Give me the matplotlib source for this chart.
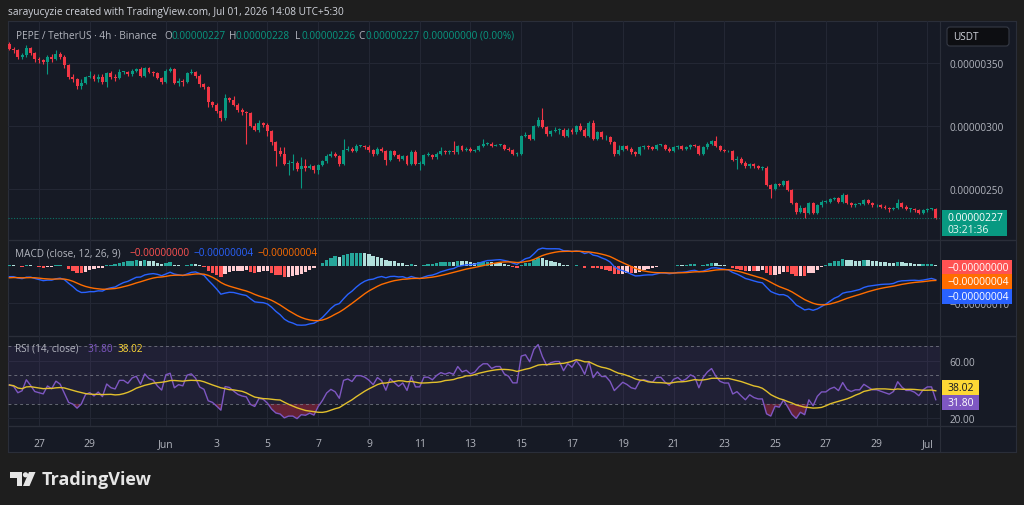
import numpy as np
import pandas as pd
import matplotlib
matplotlib.use("Agg")
import matplotlib.pyplot as plt
from matplotlib.patches import Rectangle, FancyBboxPatch, Polygon, Circle

plt.rcParams["font.family"] = ["Open Sans", "DejaVu Sans"]

# ---------- data (prices in units of 1e-8 USDT) ----------
first_open = 365
close = [
    361, 360, 355, 356, 362, 358, 353, 352, 351, 355,
    353, 357, 355, 348, 339, 337, 332, 334, 339, 340,
    337, 339, 335, 342, 339, 338, 343, 343, 341, 344,
    345, 340, 346, 343, 342, 338, 335, 344, 345, 334,
    336, 335, 342, 343, 340, 333, 331, 319, 317, 312,
    306, 322, 321, 317, 313, 311, 310, 300, 297, 302,
    301, 296, 287, 280, 278, 270, 271, 271, 266, 268,
    267, 268, 265, 269, 272, 276, 278, 276, 270, 281,
    282, 280, 284, 284, 283, 281, 278, 282, 280, 273,
    280, 277, 274, 276, 270, 279, 270, 270, 277, 277,
    275, 278, 280, 279, 280, 279, 284, 281, 282, 280,
    281, 284, 286, 286, 284, 285, 285, 282, 281, 278,
    278, 292, 293, 290, 300, 305, 299, 294, 296, 297,
    297, 292, 297, 295, 300, 297, 292, 302, 290, 295,
    291, 291, 287, 278, 281, 284, 282, 279, 278, 283,
    284, 283, 282, 285, 285, 282, 280, 283, 284, 282,
    283, 285, 284, 278, 283, 286, 288, 284, 281, 280,
    280, 273, 274, 271, 268, 270, 268, 267, 267, 253,
    250, 254, 253, 256, 249, 239, 232, 235, 231, 239,
    231, 237, 240, 240, 242, 243, 240, 245, 239, 237,
    238, 238, 241, 239, 237, 237, 236, 235, 234, 235,
    239, 236, 234, 234, 233, 231, 233, 234, 234, 227,
]
high = [
    367, 363, 361, 358, 364, 363, 359, 355, 353, 356,
    357, 360, 359, 356, 349, 341, 338, 337, 340, 344,
    341, 341, 341, 343, 344, 341, 345, 344, 344, 345,
    346, 347, 347, 347, 344, 343, 339, 345, 347, 346,
    338, 337, 343, 345, 344, 341, 334, 332, 320, 318,
    313, 325, 323, 324, 318, 314, 312, 311, 302, 305,
    303, 302, 297, 288, 283, 283, 273, 278, 272, 275,
    274, 270, 269, 270, 273, 278, 280, 279, 277, 290,
    284, 283, 286, 285, 285, 285, 282, 283, 283, 281,
    281, 281, 278, 277, 277, 281, 281, 272, 278, 279,
    278, 279, 283, 281, 281, 288, 285, 285, 283, 283,
    282, 285, 290, 287, 287, 286, 286, 286, 283, 282,
    279, 293, 295, 294, 301, 307, 314, 300, 297, 299,
    298, 298, 298, 298, 301, 302, 298, 304, 305, 296,
    296, 293, 292, 288, 285, 285, 285, 283, 280, 284,
    285, 285, 284, 286, 286, 286, 283, 284, 285, 285,
    284, 286, 286, 285, 284, 287, 289, 292, 285, 282,
    281, 281, 276, 275, 272, 271, 271, 269, 268, 268,
    254, 255, 255, 257, 257, 250, 240, 237, 236, 240,
    240, 238, 241, 241, 243, 244, 244, 247, 246, 240,
    239, 239, 242, 242, 240, 238, 238, 237, 236, 236,
    242, 240, 237, 235, 235, 234, 234, 235, 235, 235,
]
low = [
    360, 358, 353, 353, 355, 356, 351, 350, 349, 341,
    351, 352, 353, 346, 337, 335, 329, 329, 333, 338,
    336, 335, 333, 331, 337, 336, 337, 341, 340, 340,
    343, 339, 339, 342, 340, 337, 333, 334, 343, 333,
    332, 332, 334, 341, 338, 331, 329, 315, 315, 310,
    304, 305, 319, 316, 311, 309, 286, 299, 296, 295,
    299, 292, 285, 268, 276, 269, 261, 265, 264, 251,
    264, 266, 263, 262, 268, 271, 275, 275, 268, 269,
    280, 279, 279, 283, 282, 279, 276, 277, 279, 269,
    272, 276, 272, 273, 269, 269, 269, 265, 269, 276,
    274, 274, 277, 278, 278, 278, 278, 280, 280, 279,
    279, 280, 283, 285, 283, 284, 284, 281, 280, 277,
    276, 277, 291, 289, 289, 299, 298, 292, 292, 295,
    294, 291, 291, 294, 294, 296, 291, 291, 289, 289,
    290, 289, 286, 276, 277, 280, 281, 278, 276, 277,
    282, 282, 281, 281, 284, 281, 279, 279, 282, 281,
    281, 282, 283, 277, 277, 282, 285, 283, 280, 279,
    279, 272, 266, 270, 267, 267, 267, 266, 265, 252,
    243, 249, 252, 252, 248, 238, 230, 231, 227, 230,
    230, 230, 236, 239, 239, 241, 239, 239, 238, 236,
    236, 237, 237, 238, 236, 236, 235, 234, 232, 233,
    234, 235, 233, 232, 232, 230, 230, 232, 233, 226,
]
start_time = "2026-05-25 20:00"
tick_days = ["2026-05-27", "2026-05-29", "2026-06-01", "2026-06-03", "2026-06-05",
             "2026-06-07", "2026-06-09", "2026-06-11", "2026-06-13", "2026-06-15",
             "2026-06-17", "2026-06-19", "2026-06-21", "2026-06-23", "2026-06-25",
             "2026-06-27", "2026-06-29", "2026-07-01"]
tick_labels = ["27", "29", "Jun", "3", "5", "7", "9", "11", "13", "15",
               "17", "19", "21", "23", "25", "27", "29", "Jul"]
price_ticks = [250, 300, 350]
rsi_ticks = [20, 60]
macd_ticks = [-10]
# indicator state just before the first visible candle
ema12_seed, ema26_seed, signal_seed = 363, 366, -3.3
avg_gain_seed, avg_loss_seed = 1.6, 1.8
last_price = 227
last_hist, last_macd, last_signal = 0, -4, -4
last_rsi, last_rsi_ma = 31.80, 38.02

# ---------- colours ----------
BG = "#161a25"
OUTER = "#1e1e1e"
GRID = "#232734"
SEP = "#2a2e39"
TXT = "#b2b5be"
UP, DOWN = "#089981", "#f23645"
MACD_C, SIG_C = "#2962ff", "#ff6d00"
RSI_C, RSIMA_C = "#7e57c2", "#fdd835"


# ---------- indicators ----------
def smooth(values, alpha, seed):
    out, prev = [], seed
    for v in values:
        prev = prev + alpha * (v - prev)
        out.append(prev)
    return pd.Series(out)


c = pd.Series(close, dtype=float)
o = np.r_[first_open, close[:-1]].astype(float)
x = np.arange(len(close))
times = pd.date_range(start_time, periods=len(close), freq="4h")
tick_idx = times.get_indexer(pd.to_datetime(tick_days))

macd = smooth(c, 2 / 13, ema12_seed) - smooth(c, 2 / 27, ema26_seed)
signal = smooth(macd, 2 / 10, signal_seed)
hist = macd - signal
prev = hist.shift(1).fillna(0)
hist_col = np.where(hist >= 0,
                    np.where(hist >= prev, "#26a69a", "#b2dfdb"),
                    np.where(hist < prev, "#ff5252", "#ffcdd2"))

delta = c - pd.Series(o)
gain = smooth(delta.clip(lower=0), 1 / 14, avg_gain_seed)
loss = smooth(-delta.clip(upper=0), 1 / 14, avg_loss_seed)
rsi = 100 - 100 / (1 + gain / loss)
rsi_ma = rsi.rolling(14, min_periods=1).mean()

# ---------- figure layout (pixel based) ----------
W, H = 1024, 506
fig = plt.figure(figsize=(W / 100, H / 100), dpi=100)
fig.patch.set_facecolor(OUTER)


def px_axes(x0, y0, x1, y1, **kw):
    return fig.add_axes([x0 / W, 1 - y1 / H, (x1 - x0) / W, (y1 - y0) / H], **kw)


frame = px_axes(8, 22, 1016, 453)
frame.set_facecolor(BG)
frame.set_xticks([])
frame.set_yticks([])
for s in frame.spines.values():
    s.set_color(SEP)

ax_p = px_axes(8, 22, 940, 241)
ax_m = px_axes(8, 241, 940, 337)
ax_r = px_axes(8, 337, 940, 427)
xlim = (-0.33, 220.0)
for ax in (ax_p, ax_m, ax_r):
    ax.set_facecolor("none")
    ax.set_xlim(*xlim)
    for s in ax.spines.values():
        s.set_visible(False)
    ax.set_xticks(tick_idx)
    ax.grid(True, color=GRID, lw=0.8)
    ax.set_axisbelow(True)
    ax.yaxis.tick_right()
    ax.tick_params(length=0, labelsize=7.2, labelcolor=TXT, pad=7)
    ax.tick_params(axis="x", labelbottom=False)

# price pane
ax_p.set_ylim(209.5, 383.3)
ax_p.set_yticks(price_ticks)
ax_p.set_yticklabels([f"0.{v:08d}" for v in price_ticks])
up = c.values >= o
cols = np.where(up, UP, DOWN)
ax_p.vlines(x, low, high, colors=cols, lw=0.8)
ax_p.bar(x, np.maximum(np.abs(c.values - o), 0.5), bottom=np.minimum(o, c.values),
         width=0.7, color=cols, linewidth=0)
ax_p.axhline(last_price, color=UP, lw=0.8, ls=(0, (1, 1.5)), alpha=0.7)

# MACD pane
ax_m.set_ylim(-18.85, 6.9)
ax_m.set_yticks(macd_ticks)
ax_m.set_yticklabels(["\u22120.00000010"])
ax_m.bar(x, hist, width=0.8, color=hist_col, linewidth=0)
ax_m.plot(x, macd, color=MACD_C, lw=1.0)
ax_m.plot(x, signal, color=SIG_C, lw=1.0)

# RSI pane
ax_r.set_ylim(14.65, 77.2)
ax_r.set_yticks(rsi_ticks)
ax_r.set_yticklabels([f"{v:.2f}" for v in rsi_ticks])
ax_r.axhspan(30, 70, color=RSI_C, alpha=0.1, lw=0)
for lvl in (70, 50, 30):
    ax_r.axhline(lvl, color="#787b86", lw=0.7, ls=(0, (3, 3)), alpha=0.8)
ax_r.fill_between(x, rsi, 30, where=rsi < 30, interpolate=True, color="#b22a45", alpha=0.5, lw=0)
ax_r.fill_between(x, rsi, 70, where=rsi > 70, interpolate=True, color="#089981", alpha=0.5, lw=0)
ax_r.plot(x, rsi, color=RSI_C, lw=1.0)
ax_r.plot(x, rsi_ma, color="#e2c02c", lw=1.0)
ax_r.tick_params(axis="x", labelbottom=True, pad=9, labelsize=7.5)
ax_r.set_xticklabels(tick_labels)

# pane separators
for yy in (241, 337, 427):
    frame.axhline(1 - (yy - 22) / (453 - 22), color=SEP, lw=1)
frame.axvline((940 - 8) / (1016 - 8), color=SEP, lw=0.8)

# ---------- overlay for texts, labels, logo ----------
ov = fig.add_axes([0, 0, 1, 1], zorder=10)
ov.set_xlim(0, W)
ov.set_ylim(H, 0)
ov.axis("off")


def pane_y(ax, v):
    return H - ax.transData.transform((0, v))[1]


def value_box(ax, v, text, fc, tc, dy=0, w=70, h=15):
    yc = pane_y(ax, v) + dy
    ov.add_patch(Rectangle((942, yc - h / 2), w, h, fc=fc, ec="none"))
    ov.text(948, yc, text, color=tc, fontsize=7.5, va="center", ha="left")


ov.text(8, 12, "sarayucyzie created with TradingView.com, Jul 01, 2026 14:08 UTC+5:30",
        color="#d1d4dc", fontsize=7.3, va="center")

ov.text(16, 36, "PEPE / TetherUS \u00b7 4h \u00b7 Binance", color=TXT, fontsize=7.2, va="center")
ohlc = [("O", 164, "0.00000227"), ("H", 229, "0.00000228"),
        ("L", 295, "0.00000226"), ("C", 358, "0.00000227")]
for lab, xx, val in ohlc:
    ov.text(xx, 36, lab, color=TXT, fontsize=7.2, va="center")
    ov.text(xx + 7, 36, val, color=UP, fontsize=7.2, va="center")
ov.text(423, 36, "0.00000000 (0.00%)", color=UP, fontsize=7.2, va="center")

# USDT box
ov.add_patch(FancyBboxPatch((947, 28), 62, 19, boxstyle="round,pad=0,rounding_size=3",
                            fc="#0d0e12", ec="#363a45", lw=0.8))
ov.text(953, 37.5, "USDT", color="#d1d4dc", fontsize=7.2, va="center")

# MACD legend
ov.text(15, 254, "MACD (close, 12, 26, 9)", color=TXT, fontsize=7.2, va="center")
ov.text(130, 254, "\u22120.00000000", color="#ff5252", fontsize=7.2, va="center")
ov.text(194, 254, "\u22120.00000004", color=MACD_C, fontsize=7.2, va="center")
ov.text(258, 254, "\u22120.00000004", color=SIG_C, fontsize=7.2, va="center")

# RSI legend
ov.text(15, 349, "RSI (14, close)", color=TXT, fontsize=7.2, va="center")
ov.text(87, 349, f"{last_rsi:.2f}", color=RSI_C, fontsize=7.2, va="center")
ov.text(118, 349, f"{last_rsi_ma:.2f}", color=RSIMA_C, fontsize=7.2, va="center")

# price label
yp = pane_y(ax_p, last_price)
ov.add_patch(Rectangle((942, yp - 7.5), 65, 26, fc=UP, ec="none"))
ov.text(948, yp, f"0.{last_price:08d}", color="white", fontsize=7.5, va="center")
ov.text(948, yp + 12, "03:21:36", color="#e8f5f2", fontsize=7.5, va="center")

# MACD labels (stacked)
value_box(ax_m, last_hist, "\u22120.00000000", "#ff5252", "white", dy=1.5)
value_box(ax_m, last_signal, "\u22120.00000004", SIG_C, "white", dy=1)
value_box(ax_m, last_macd, "\u22120.00000004", MACD_C, "white", dy=15.5)

# RSI labels
value_box(ax_r, last_rsi_ma, f"{last_rsi_ma:.2f}", RSIMA_C, "#131722", dy=-5, w=37)
value_box(ax_r, last_rsi, f"{last_rsi:.2f}", RSI_C, "white", dy=1.5, w=37)

# TradingView logo
ov.add_patch(Polygon([(10, 473), (22, 473), (22, 487), (16.5, 487), (16.5, 478.5), (10, 478.5)],
                     closed=True, fc="#e6e6e6", ec="none"))
ov.add_patch(Circle((25.5, 475.8), 2.6, fc="#e6e6e6", ec="none"))
ov.add_patch(Polygon([(29, 473), (35.5, 473), (29.5, 487), (23, 487)], closed=True,
                     fc="#e6e6e6", ec="none"))
ov.text(42, 480, "TradingView", color="#e6e6e6", fontsize=13, fontweight="bold", va="center")

fig.savefig("out.png", dpi=100, facecolor=fig.get_facecolor())
